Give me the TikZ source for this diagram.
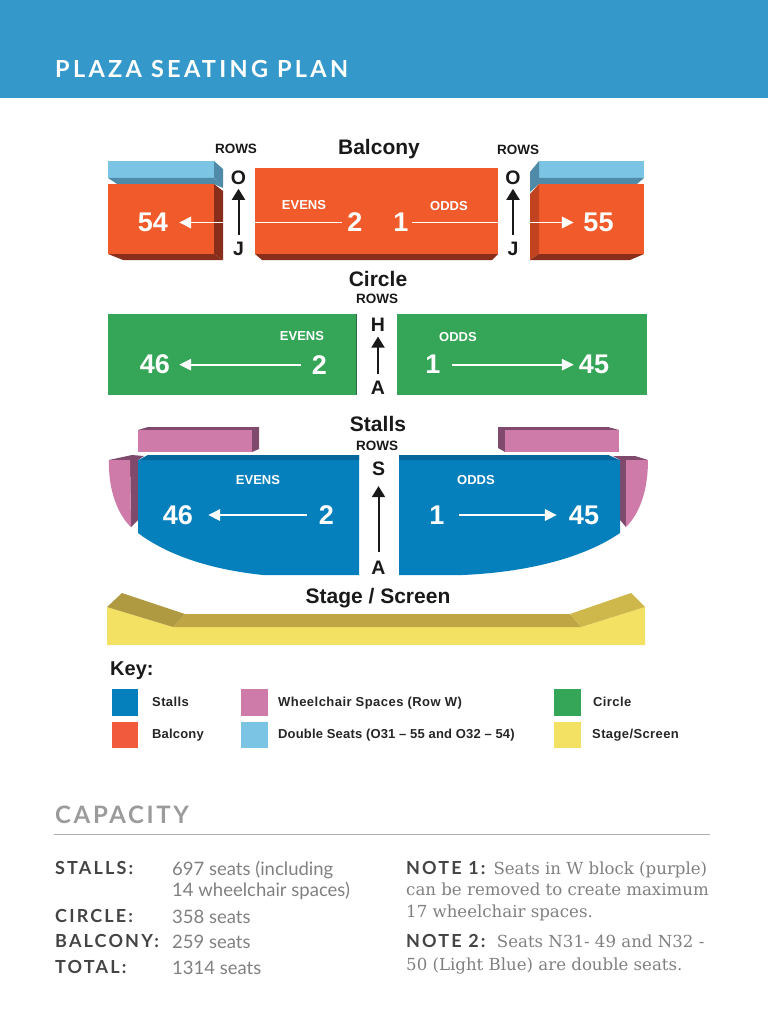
\documentclass[tikz,border=0pt]{standalone}
\usepackage{fontspec}
\setmainfont{Liberation Sans}
\newfontfamily\latofont{Lato}
\newfontfamily\serifont{DejaVu Serif}
\usetikzlibrary{arrows.meta}

\definecolor{headblue}{HTML}{3498CB}
\definecolor{balred}{HTML}{F15B2C}
\definecolor{keyred}{HTML}{F15A3C}
\definecolor{balside}{HTML}{8A2E1C}
\definecolor{balsidetwo}{HTML}{C2431F}
\definecolor{dblblue}{HTML}{7CC4E4}
\definecolor{dblside}{HTML}{4F8BA8}
\definecolor{circgreen}{HTML}{35A557}
\definecolor{circdark}{HTML}{2A6B45}
\definecolor{stallblue}{HTML}{0680BD}
\definecolor{stalldark}{HTML}{04669A}
\definecolor{wheelpink}{HTML}{CE7BAA}
\definecolor{wheeldark}{HTML}{7F4A6C}
\definecolor{stageyellow}{HTML}{F3E164}
\definecolor{stageflat}{HTML}{BFA544}
\definecolor{stageleft}{HTML}{AF9A42}
\definecolor{stageright}{HTML}{CEB84C}
\definecolor{greyhead}{HTML}{9B9B9B}
\definecolor{greytext}{HTML}{808080}
\definecolor{darktext}{HTML}{444444}

\tikzset{
    seatnum/.style={font=\bfseries\fontsize{27}{27}\selectfont, text=white, inner sep=1pt},
    sidelabel/.style={font=\bfseries\fontsize{13}{13}\selectfont, text=white, inner sep=0pt},
    rowletter/.style={font=\bfseries\fontsize{19.5}{19.5}\selectfont, text=black!90, inner sep=0pt},
    rowscap/.style={font=\bfseries\fontsize{13.5}{13.5}\selectfont, text=black!90, inner sep=0pt},
    levelname/.style={font=\bfseries\fontsize{21}{21}\selectfont, text=black!90, inner sep=0pt, anchor=base},
    keytext/.style={font=\bfseries\fontsize{13}{13}\selectfont\addfontfeature{LetterSpace=3}, text=black!85, inner sep=0pt, anchor=base west},
    whitearrow/.style={draw=white, line width=1.8pt, -{Triangle[length=12pt,width=11.5pt]}},
    rowarrow/.style={draw=black!90, line width=2pt, -{Triangle[length=11pt,width=13pt]}},
    capname/.style={font=\latofont\bfseries\fontsize{18}{18}\selectfont, text=darktext, inner sep=0pt, anchor=base west},
    capval/.style={font=\latofont\fontsize{18.5}{18.5}\selectfont, text=greytext, inner sep=0pt, anchor=base west},
    notetext/.style={font=\serifont\fontsize{16.6}{16.6}\selectfont, text=greytext, inner sep=0pt, anchor=base west}
}

\begin{document}
\begin{tikzpicture}[x=1pt, y=-1pt]
    \useasboundingbox (0,0) rectangle (768,1024);

    % header
    \fill[headblue] (0,0) rectangle (768,98);
    \node[font=\latofont\bfseries\fontsize{23.5}{23.5}\selectfont, text=white, anchor=base west, inner sep=0pt] (title) at (55,77.3) {\addfontfeature{LetterSpace=14}PLAZA SEATING PLAN};

    % balcony, left block
    \fill[dblblue] (108,161) rectangle (214,178);
    \fill[dblside] (108,178) -- (214,178) -- (223,188) -- (214,184) -- (117,184) -- cycle;
    \fill[dblside] (214,161) -- (223,169) -- (223,188) -- (214,178) -- cycle;
    \fill[balred] (108,184) rectangle (214,254);
    \fill[balside] (214,184) -- (223,191) -- (223,260) -- (214,254) -- cycle;
    \fill[balside] (108,254) -- (214,254) -- (223,260) -- (123,260) -- cycle;

    % balcony, middle block
    \fill[balred] (255,168) rectangle (498,254);
    \fill[balside] (255,254) -- (498,254) -- (492,260) -- (262,260) -- cycle;

    % balcony, right block
    \fill[dblblue] (539,161) rectangle (644,178);
    \fill[dblside] (539,178) -- (644,178) -- (637,184) -- (539,184) -- (530,192) -- (530,172) -- (539,161) -- cycle;
    \fill[balred] (539,184) rectangle (644,254);
    \fill[balsidetwo] (539,184) -- (530,194) -- (530,260) -- (539,254) -- cycle;
    \fill[balside] (539,254) -- (644,254) -- (630,260) -- (530,260) -- cycle;

    % circle
    \fill[circgreen] (108.3,314.3) rectangle (356.7,395);
    \fill[circdark] (356,314.3) rectangle (357.2,395);
    \fill[circgreen] (397.3,314.3) rectangle (647.3,395);

    % wheelchair blocks
    \fill[wheeldark] (138,430) -- (148,427) -- (259,427) -- (259,449) -- (252,452) -- (252,430) -- cycle;
    \fill[wheelpink] (138,430) rectangle (252,452);
    \fill[wheeldark] (498,427) -- (608,427) -- (619,430) -- (505,430) -- (505,452) -- (498,448) -- cycle;
    \fill[wheelpink] (505,430) rectangle (619,452);

    \fill[wheeldark] (109,460) -- (132,455) -- (144,456) -- (138,460) -- (138,520) -- (131,527) -- (130,460) -- cycle;
    \fill[wheelpink] (109,460) -- (130,460) -- (131,527) .. controls (118,515) and (108,490) .. cycle;
    \fill[wheeldark] (613,456) -- (635,456) -- (648,460) -- (626,460) -- (626,527) -- (620,520) -- (620,460) -- cycle;
    \fill[wheelpink] (626,460) -- (648,460) .. controls (648,490) and (640,513) .. (626,527) -- cycle;

    % stalls
    \fill[stallblue] (138,460) -- (148,455) -- (359,455) -- (359,575) -- (263,575) .. controls (215,570) and (170,557) .. (138,533) -- cycle;
    \fill[stalldark] (141,460) -- (148,455) -- (359,455) -- (359,460) -- cycle;
    \fill[stallblue] (399,455) -- (608,455) -- (620,460) -- (620,533) .. controls (585,557) and (530,572) .. (463,575) -- (399,575) -- cycle;
    \fill[stalldark] (399,455) -- (608,455) -- (618,460) -- (399,460) -- cycle;

    % stage
    \fill[stageyellow] (107,607) -- (173,627) -- (581,627) -- (645,607) -- (645,645) -- (107,645) -- cycle;
    \fill[stageflat] (185,614) -- (570,614) -- (581,627) -- (173,627) -- cycle;
    \fill[stageleft] (107,607) -- (122,593) -- (185,614) -- (173,627) -- cycle;
    \fill[stageright] (570,614) -- (631,593) -- (645,607) -- (581,627) -- cycle;

    % balcony labels
    \node[levelname] (balcony) at (379,155) {Balcony};
    \node[rowscap] (rowsbl) at (236,149) {ROWS};
    \node[rowscap] (rowsbr) at (518,150) {ROWS};
    \node[rowletter] (oleft) at (238.5,177.7) {O};
    \node[rowletter] (jleft) at (238.5,249) {J};
    \node[rowletter] (oright) at (513,177.7) {O};
    \node[rowletter] (jright) at (513,249) {J};
    \node[sidelabel] (evensb) at (304,205) {EVENS};
    \node[sidelabel] (oddsb) at (449,206) {ODDS};
    \node[seatnum] (b54) at (153,222.5) {54};
    \node[seatnum] (b2) at (355,222.5) {2};
    \node[seatnum] (b1) at (401,222.5) {1};
    \node[seatnum] (b55) at (598.5,222.5) {55};
    \draw[whitearrow, shorten <=4.5pt, shorten >=10pt] (b2) -- (b54);
    \draw[whitearrow, shorten <=2.5pt, shorten >=8.5pt] (b1) -- (b55);
    \draw[rowarrow, shorten <=7pt, shorten >=4pt] (jleft) -- (oleft);
    \draw[rowarrow, shorten <=7pt, shorten >=4pt] (jright) -- (oright);

    % circle labels
    \node[levelname] (circle) at (378,286.5) {Circle};
    \node[rowscap] (rowsc) at (377,299) {ROWS};
    \node[rowletter] (hrow) at (378,324.7) {H};
    \node[rowletter] (arowc) at (378,388) {A};
    \draw[rowarrow, shorten <=7pt, shorten >=5pt] (arowc) -- (hrow);
    \node[sidelabel] (evensc) at (302,336) {EVENS};
    \node[sidelabel] (oddsc) at (458,337) {ODDS};
    \node[seatnum] (c46) at (155,364.7) {46};
    \node[seatnum] (c2) at (319.5,364.7) {2};
    \node[seatnum] (c1) at (433,364.7) {1};
    \node[seatnum] (c45) at (594,364.7) {45};
    \draw[whitearrow, shorten <=10pt, shorten >=8pt] (c2) -- (c46);
    \draw[whitearrow, shorten <=10.5pt, shorten >=4pt] (c1) -- (c45);

    % stalls labels
    \node[levelname] (stalls) at (378,431.5) {Stalls};
    \node[rowscap] (rowss) at (377,446) {ROWS};
    \node[rowletter] (srow) at (378.5,469) {S};
    \node[rowletter] (arows) at (378.5,568) {A};
    \draw[rowarrow, shorten <=9pt, shorten >=10pt] (arows) -- (srow);
    \node[sidelabel] (evenss) at (258,480) {EVENS};
    \node[sidelabel] (oddss) at (476,480) {ODDS};
    \node[seatnum] (s46) at (178,515) {46};
    \node[seatnum] (s2) at (326.5,515) {2};
    \node[seatnum] (s1) at (437,515) {1};
    \node[seatnum] (s45) at (584,515) {45};
    \draw[whitearrow, shorten <=11pt, shorten >=14pt] (s2) -- (s46);
    \draw[whitearrow, shorten <=13.5pt, shorten >=11pt] (s1) -- (s45);

    \node[levelname] (stage) at (378,603) {Stage / Screen};

    % key
    \node[font=\bfseries\fontsize{20}{20}\selectfont, text=black!90, anchor=base west, inner sep=0pt] (keyhead) at (110,675) {Key:};
    \fill[stallblue] (111.5,689) rectangle (138,715.7);
    \fill[keyred] (111.5,722) rectangle (138,747.5);
    \fill[wheelpink] (241,689) rectangle (268,715.7);
    \fill[dblblue] (241,722) rectangle (268,747.5);
    \fill[circgreen] (554,689) rectangle (581,715.7);
    \fill[stageyellow] (554,722) rectangle (581,747.5);
    \node[keytext] (keystalls) at (152,706) {Stalls};
    \node[keytext] (keybalcony) at (152,738) {\addfontfeature{LetterSpace=1.3}Balcony};
    \node[keytext] (keywheel) at (278,706) {\addfontfeature{LetterSpace=3.5}Wheelchair Spaces (Row W)};
    \node[keytext] (keydouble) at (278,738) {\addfontfeature{LetterSpace=1.3}Double Seats (O31 – 55 and O32 – 54)};
    \node[keytext] (keycircle) at (593,706) {Circle};
    \node[keytext] (keystage) at (592,738) {Stage/Screen};

    % capacity
    \node[font=\latofont\bfseries\fontsize{24}{24}\selectfont, text=greyhead, anchor=base west, inner sep=0pt] (capacity) at (55,823.3) {\addfontfeature{LetterSpace=11}CAPACITY};
    \draw[greyhead!80, line width=1.3pt] (54,834.5) -- (710,834.5);

    \node[capname] (nstalls) at (55,874) {\addfontfeature{LetterSpace=12}STALLS:};
    \node[capname] (ncircle) at (55,922.3) {\addfontfeature{LetterSpace=12}CIRCLE:};
    \node[capname] (nbalcony) at (55,947.7) {\addfontfeature{LetterSpace=12}BALCONY:};
    \node[capname] (ntotal) at (55,973) {\addfontfeature{LetterSpace=12}TOTAL:};
    \node[capval] (vstalls) at (172,875) {697 seats (including};
    \node[capval] (vstallstwo) at (172,896) {14 wheelchair spaces)};
    \node[capval] (vcircle) at (172,923.3) {358 seats};
    \node[capval] (vbalcony) at (172,948) {259 seats};
    \node[capval] (vtotal) at (172,974) {1314 seats};

    % notes
    \node[capname] (noteone) at (406,874.3) {\addfontfeature{LetterSpace=12}NOTE 1:};
    \node[notetext] (noteonea) at (493.3,874.3) {Seats in W block (purple)};
    \node[notetext] (noteoneb) at (406,895) {can be removed to create maximum};
    \node[notetext] (noteonec) at (406,917.3) {17 wheelchair spaces.};
    \node[capname] (notetwo) at (406,947.7) {\addfontfeature{LetterSpace=12}NOTE 2:};
    \node[notetext] (notetwoa) at (496.7,947.7) {Seats N31- 49 and N32 -};
    \node[notetext] (notetwob) at (406,970) {50 (Light Blue) are double seats.};
\end{tikzpicture}
\end{document}
